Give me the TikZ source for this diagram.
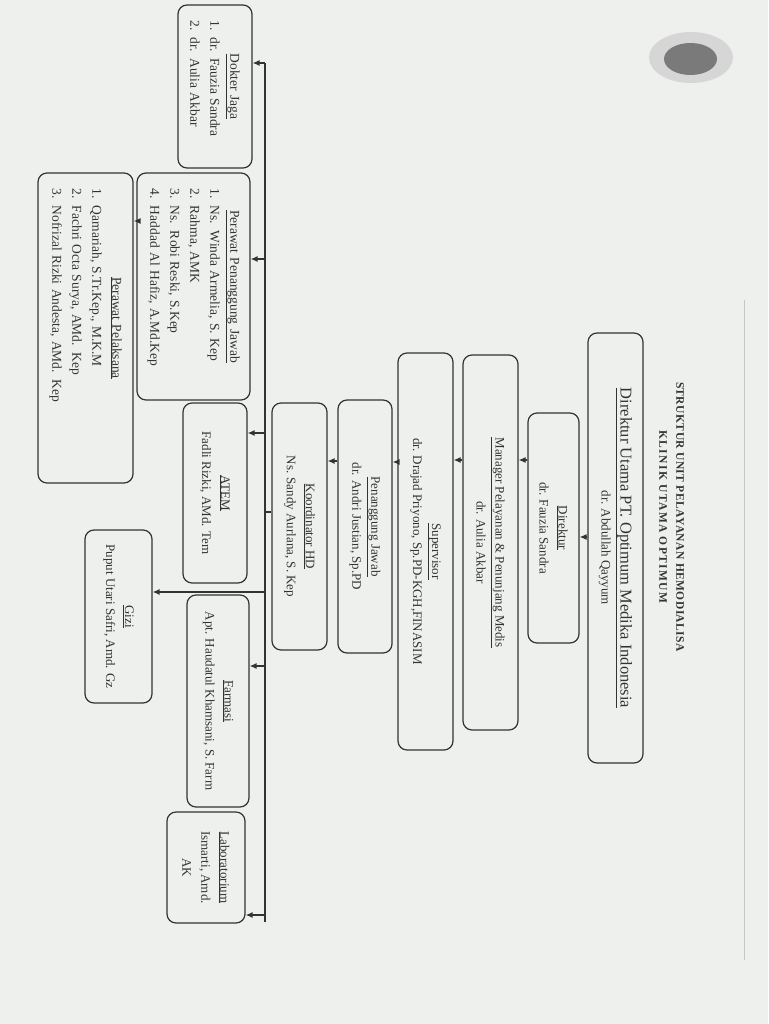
\documentclass[tikz,border=0pt]{standalone}
\usepackage{fontspec}
\setmainfont{Liberation Serif}
\usetikzlibrary{calc,arrows.meta}
\definecolor{paper}{HTML}{EEF0ED}
\definecolor{ink}{HTML}{333333}
\newcommand{\boxfont}{\fontsize{13}{19}\selectfont}
\newcommand{\listfont}{\fontsize{13.5}{20}\selectfont}

\begin{document}
\begin{tikzpicture}[x=1pt,y=-1pt,
        unit/.style={draw=ink,line width=1.2pt,rounded corners=9pt,rotate=-90,
            align=center,inner sep=0pt,font=\boxfont,text=ink},
        listunit/.style={unit,align=left,font=\listfont,inner xsep=16pt},
        link/.style={draw=ink,line width=1.3pt,-{Latex[length=7pt,width=6pt]}},
        bus/.style={draw=ink,line width=1.3pt}]
        % Paper
        \fill [paper] (0,0) rectangle (768,1024);
        \useasboundingbox (0,0) rectangle (768,1024);
        \fill [black!16] (691,57.5) ellipse [x radius=42pt,y radius=25.5pt];
        \fill [black!52] (690.5,59) ellipse [x radius=26.5pt,y radius=16pt];
        \draw [black!22,line width=1pt] (744,300) -- (744,960);
        % Title
        \node (title) at (671.5,517) [rotate=-90,align=center,text=ink,
            font=\fontsize{11.5}{17}\selectfont\bfseries]
            {{\addfontfeatures{LetterSpace=4}STRUKTUR UNIT PELAYANAN HEMODIALISA}\\
            {\addfontfeatures{LetterSpace=12}KLINIK UTAMA OPTIMUM}};
        % Units
        \node (dirut) at (615.5,548) [unit,minimum width=430pt,minimum height=55pt]
            {{\fontsize{16.5}{19}\selectfont\underline{Direktur Utama PT. Optimum Medika Indonesia}}\\dr. Abdullah Qayyum};
        \node (direktur) at (553.5,528) [unit,minimum width=230pt,minimum height=51pt]
            {\underline{Direktur}\\dr. Fauzia Sandra};
        \node (manager) at (490.5,542.5) [unit,minimum width=375pt,minimum height=55pt]
            {\underline{Manager Pelayanan \& Penunjang Medis}\\dr. Aulia Akbar};
        \node (supervisor) at (425.5,551.5) [unit,minimum width=397pt,minimum height=55pt]
            {\underline{Supervisor}\\dr. Drajad Priyono, Sp.PD-KGH,FINASIM};
        \node (pj) at (365,526.5) [unit,minimum width=253pt,minimum height=54pt]
            {\underline{Penanggung Jawab}\\dr. Andri Justian, Sp.PD};
        \node (koord) at (299.5,526.5) [unit,minimum width=247pt,minimum height=55pt]
            {\underline{Koordinator HD}\\Ns. Sandy Aurlana, S. Kep};
        \node (atem) at (215,493) [unit,minimum width=180pt,minimum height=64pt]
            {\underline{ATEM}\\Fadli Rizki, AMd. Tem};
        \node (gizi) at (118.5,616.5) [unit,minimum width=173pt,minimum height=67pt]
            {\underline{Gizi}\\Puput Utari Safri, Amd. Gz};
        \node (farmasi) at (218,701) [unit,minimum width=212pt,minimum height=62pt]
            {\underline{Farmasi}\\Apt. Haudatul Khamsani, S. Farm};
        \node (lab) at (206,867.5) [unit,minimum width=111pt,minimum height=78pt]
            {\underline{Laboratorium}\\Ismarti, Amd.\\AK};
        % Lists
        \node (dokter) at (215,86.5) [listunit,minimum width=163pt,minimum height=74pt,
            text width=131pt]
            {\makebox[\hsize]{\underline{Dokter Jaga}}\\
            1.\enspace dr. Fauzia Sandra\\
            2.\enspace dr. Aulia Akbar};
        \node (ppj) at (193.5,286.5) [listunit,minimum width=227pt,minimum height=113pt,
            text width=195pt]
            {\makebox[\hsize]{\underline{Perawat Penanggung Jawab}}\\
            1.\enspace Ns. Winda Armelia, S. Kep\\
            2.\enspace Rahma, AMK\\
            3.\enspace Ns. Robi Reski, S.Kep\\
            4.\enspace Haddad Al Hafiz, A.Md.Kep};
        \node (pelaksana) at (85.5,328) [listunit,minimum width=310pt,minimum height=95pt,
            text width=278pt]
            {\makebox[\hsize]{\underline{Perawat Pelaksana}}\\
            1.\enspace Qamariah, S.Tr.Kep., M.K.M\\
            2.\enspace Fachri Octa Surya, AMd. Kep\\
            3.\enspace Nofrizal Rizki Andesta, AMd. Kep};
        % Connectors
        \foreach \a/\b/\y in {dirut/direktur/537, direktur/manager/460,
            manager/supervisor/460, supervisor/pj/462, pj/koord/461, ppj/pelaksana/221}
            \draw [link] (\a.south |- 0,\y) -- (\b.north |- 0,\y);
        \coordinate (bustop) at (265,63);
        \coordinate (busend) at (265,922);
        \draw [bus] (bustop) -- (busend);
        \draw [bus] (koord.south |- 0,512) -- (bustop |- 0,512);
        \foreach \n/\y in {dokter/63, ppj/259, atem/433, gizi/592, farmasi/666, lab/915}
            \draw [link] (bustop |- 0,\y) -- (\n.north |- 0,\y);
\end{tikzpicture}
\end{document}
